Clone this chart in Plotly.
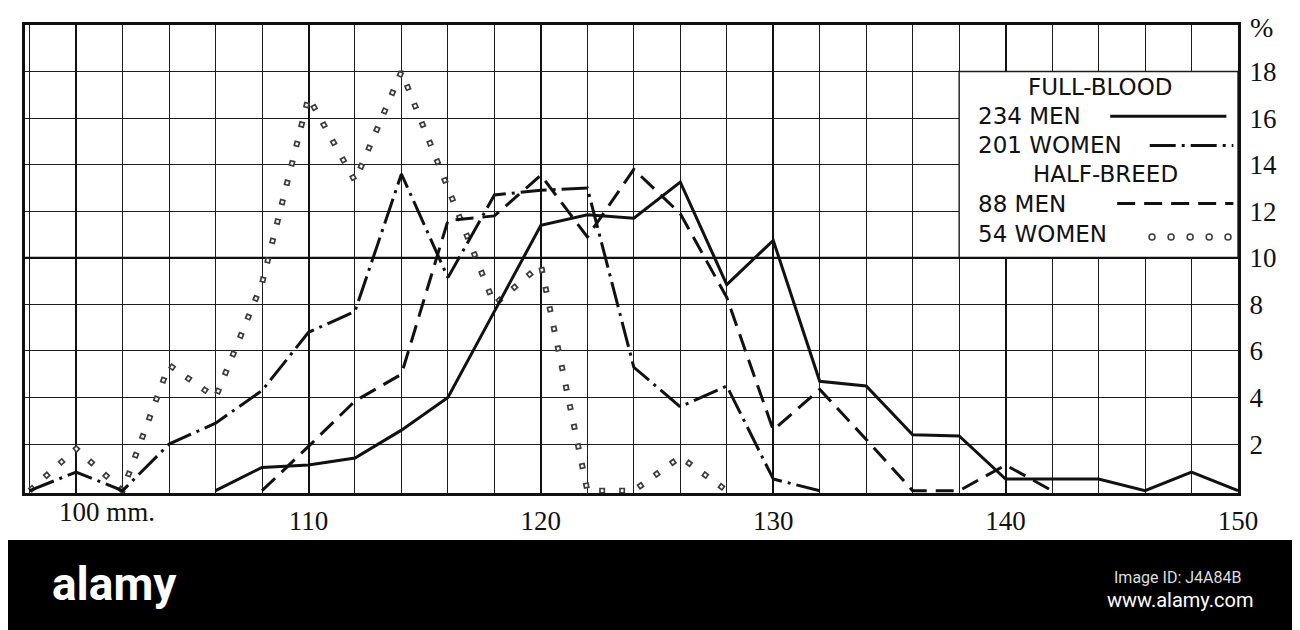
import plotly.graph_objects as go

# ---------------- data ----------------
# Full-blood, 234 men (solid)
x_fb_men = [106, 108, 110, 112, 114, 116, 118, 120, 122, 124, 126, 128,
            130, 132, 134, 136, 138, 140, 142, 144, 146, 148, 150]
fb_men = [0, 1.0, 1.1, 1.4, 2.6, 4.0, 7.7, 11.4, 11.85, 11.7, 13.25, 8.85,
          10.75, 4.7, 4.5, 2.4, 2.35, 0.5, 0.5, 0.5, 0, 0.8, 0]

# Full-blood, 201 women (dash-dot)
x_fb_women = [98, 100, 102, 104, 106, 108, 110, 112, 114, 116, 118, 120,
              122, 124, 126, 128, 130, 132]
fb_women = [0, 0.8, 0, 2.0, 2.9, 4.3, 6.8, 7.7, 13.6, 9.15, 12.7, 12.9,
            13.0, 5.3, 3.6, 4.5, 0.5, 0]

# Half-breed, 88 men (dashed)
x_hb_men = [108, 110, 112, 114, 116, 118, 120, 122, 124, 126, 128, 130,
            132, 134, 136, 138, 140, 142]
hb_men = [0, 1.9, 3.85, 5.0, 11.6, 11.8, 13.55, 10.9, 13.8, 11.9, 8.3, 2.6,
          4.35, 2.2, 0, 0, 1.1, 0]

# Half-breed, 54 women (dotted)
x_hb_women = [98, 100, 102, 104, 106, 108, 110, 112, 114, 116, 118, 120,
              122, 124, 126, 128]
hb_women = [0, 1.8, 0, 5.4, 4.0, 8.9, 16.9, 13.3, 18.0, 13.0, 8.0, 9.7,
            0, 0, 1.45, 0]

x_tick_vals = [100, 110, 120, 130, 140, 150]
x_tick_text = ["", "110", "120", "130", "140", "150"]
y_tick_vals = [2, 4, 6, 8, 10, 12, 14, 16, 18]
y_tick_text = [str(v) for v in y_tick_vals]

legend_heads = ["FULL-BLOOD", "HALF-BREED"]
legend_labels = ["234 MEN", "201 WOMEN", "88 MEN", "54 WOMEN"]

# ---------------- styling ----------------
INK = "#111111"
GRID = "#1c1c1c"
SERIF = "Liberation Serif, Times New Roman, serif"
SANS = "DejaVu Sans, Verdana, sans-serif"
NARROW = "Roboto, Liberation Sans, sans-serif"
X0, X1 = 97.8, 150
Y0, Y1 = -0.1, 20
PH = 468.0   # plot-area height in px (for paper-coordinate placement)
PW = 1213.0  # plot-area width in px

fig = go.Figure()

# dotted series: hollow dots made of two overlaid dash patterns
fig.add_trace(go.Scatter(x=x_hb_women, y=hb_women, mode="lines",
                         line=dict(color="#3c3c3c", width=6, dash="6px,14px"),
                         hoverinfo="skip", showlegend=False))
fig.add_trace(go.Scatter(x=x_hb_women, y=hb_women, mode="lines",
                         line=dict(color="white", width=2.6,
                                   dash="0px,1.7px,2.6px,15.7px"),
                         hoverinfo="skip", showlegend=False))
fig.add_trace(go.Scatter(x=x_fb_men, y=fb_men, mode="lines",
                         line=dict(color=INK, width=3),
                         hoverinfo="skip", showlegend=False))
fig.add_trace(go.Scatter(x=x_fb_women, y=fb_women, mode="lines",
                         line=dict(color=INK, width=3, dash="26px,6px,3px,6px"),
                         hoverinfo="skip", showlegend=False))
fig.add_trace(go.Scatter(x=x_hb_men, y=hb_men, mode="lines",
                         line=dict(color=INK, width=3, dash="18px,9px"),
                         hoverinfo="skip", showlegend=False))

# legend box (blank grid area) and thick 10 % line
fig.add_shape(type="rect", xref="x", yref="y", x0=138, x1=150, y0=10, y1=18,
              fillcolor="white", line=dict(color=GRID, width=1.4), layer="between")
fig.add_shape(type="line", xref="x", yref="y", x0=X0, x1=X1, y0=10, y1=10,
              line=dict(color=INK, width=2.4), layer="between")

# legend text
fig.add_annotation(x=144.06, y=17.33, xref="x", yref="y", text=legend_heads[0],
                   showarrow=False, xanchor="center", yanchor="middle",
                   font=dict(family=SANS, size=23, color=INK))
fig.add_annotation(x=144.28, y=13.58, xref="x", yref="y", text=legend_heads[1],
                   showarrow=False, xanchor="center", yanchor="middle",
                   font=dict(family=SANS, size=23, color=INK))
for lab, yy in zip(legend_labels, [16.08, 14.83, 12.33, 11.03]):
    fig.add_annotation(x=138.73, y=yy, xref="x", yref="y", text=lab,
                       showarrow=False, xanchor="left", yanchor="middle",
                       font=dict(family=SANS, size=23, color=INK))

# legend samples
fig.add_shape(type="line", xref="x", yref="y", x0=144.5, x1=149.5, y0=16.08, y1=16.08,
              line=dict(color=INK, width=3))
fig.add_shape(type="line", xref="x", yref="y", x0=146.2, x1=149.8, y0=14.83, y1=14.83,
              line=dict(color=INK, width=3, dash="26px,6px,3px,6px"))
fig.add_shape(type="line", xref="x", yref="y", x0=144.8, x1=149.8, y0=12.33, y1=12.33,
              line=dict(color=INK, width=3, dash="18px,9px"))
for xd in [146.3, 147.12, 147.94, 148.76, 149.57]:
    fig.add_shape(type="circle", xref="x", yref="y", xsizemode="pixel", ysizemode="pixel",
                  xanchor=xd, yanchor=10.9, x0=-3, x1=3, y0=-3, y1=3,
                  line=dict(color="#3c3c3c", width=1.5), fillcolor="white")

# axis captions
fig.add_annotation(x=100, y=0, xref="x", yref="paper", text="100 mm.",
                   showarrow=False, xanchor="left", yanchor="top", xshift=-19, yshift=-2,
                   font=dict(family=SERIF, size=27, color=INK))
fig.add_annotation(x=(1262 - 25) / PW, y=(493 - 28) / PH, xref="paper", yref="paper",
                   text="%", showarrow=False, xanchor="center", yanchor="middle",
                   font=dict(family=SERIF, size=28, color=INK))

# black footer band
fig.add_shape(type="rect", xref="paper", yref="paper", x0=-0.03, x1=1.08,
              y0=-0.32, y1=(493 - 540) / PH, fillcolor="black", line=dict(width=0),
              layer="above")
fig.add_annotation(x=(50 - 25) / PW, y=(493 - 584) / PH, xref="paper", yref="paper",
                   text="<b>alamy</b>", showarrow=False, xanchor="left", yanchor="middle",
                   font=dict(family=NARROW, size=46, color="white"))
fig.add_annotation(x=(1243 - 25) / PW, y=(493 - 577) / PH, xref="paper", yref="paper",
                   text="Image ID: J4A84B", showarrow=False, xanchor="right", yanchor="middle",
                   font=dict(family=NARROW, size=16, color="#dddddd"))
fig.add_annotation(x=(1255 - 25) / PW, y=(493 - 600) / PH, xref="paper", yref="paper",
                   text="www.alamy.com", showarrow=False, xanchor="right", yanchor="middle",
                   font=dict(family=NARROW, size=20, color="white"))

fig.update_xaxes(range=[X0, X1], tickmode="array", tickvals=x_tick_vals, ticktext=x_tick_text,
                 showgrid=True, gridcolor=INK, gridwidth=2.4,
                 minor=dict(dtick=2, tick0=98, showgrid=True, gridcolor=GRID, gridwidth=1.4),
                 showline=True, mirror=True, linecolor=INK, linewidth=3, ticks="",
                 zeroline=False, ticklabelstandoff=2,
                 tickfont=dict(family=SERIF, size=27, color=INK))
fig.update_yaxes(range=[Y0, Y1], side="right", tickmode="array", tickvals=y_tick_vals,
                 ticktext=y_tick_text, showgrid=True, gridcolor=GRID, gridwidth=1.4,
                 showline=True, mirror=True, linecolor=INK, linewidth=3, ticks="",
                 zeroline=False, ticklabelstandoff=3,
                 tickfont=dict(family=SERIF, size=27, color=INK))

# page body has an 8 px margin, so the margins are reduced by 8 px on the left/top
fig.update_layout(width=1300, height=630, margin=dict(l=17, r=70, t=17, b=145),
                  plot_bgcolor="white", paper_bgcolor="white", showlegend=False,
                  hovermode=False)

fig.write_html("out.html")
